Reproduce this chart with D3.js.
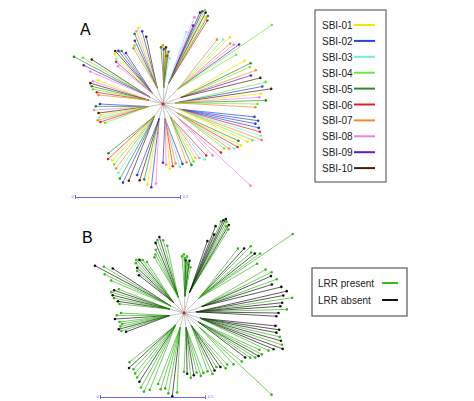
<!DOCTYPE html>
<html>
<head>
<meta charset="utf-8">
<script src="https://cdn.jsdelivr.net/npm/d3@7"></script>
<style>
body { margin: 0; background: #fff; }
text { font-family: Helvetica, "Liberation Sans", Arial, sans-serif; }
</style>
</head>
<body>
<div id="chart"></div>
<script>
// legend categories and colours
var groupNames = ["SBI-01", "SBI-02", "SBI-03", "SBI-04", "SBI-05", "SBI-06", "SBI-07", "SBI-08", "SBI-09", "SBI-10"];
var groupColors = ["#f2e600", "#2a3fd8", "#6ff0d8", "#6ee83a", "#2e8a23", "#e02020", "#f08a2a", "#ee82e0", "#5a1fc8", "#4a1c0c"];
var lrrNames = ["LRR present", "LRR absent"];
var lrrColors = ["#39b71e", "#111111"];

// clade internal nodes: [angle in degrees clockwise from up, distance]
var cladeNodes = [[15,0.1],[3,0.08],[-20,0.08],[-45,0.07],[-62,0.07],[-75,0.07],[-100,0.07],[45,0.1],[70,0.09],
  [85,0.06],[108,0.08],[122,0.08],[133,0.1],[150,0.07],[172,0.07],[195,0.07],[215,0.07]];
// leaf angles per clade
var leafAngles = [
  [20,22,23,24,25,26,27,28,21,18],
  [-2,0,1,2,3,4,5,6,8],
  [-14,-16,-18,-20,-22,-24,-26,-28],
  [-36,-38,-40,-42,-44,-46,-48,-50],
  [-58,-60,-62,-64,-66],
  [-70,-72,-74,-76,-78,-80,-82],
  [-90,-92,-95,-98,-100,-102,-104,-106,-108],
  [40,43,45,48,50,52,54,56],
  [62,65,67,70,72,75],
  [78,80,82,84,86,88,90,92],
  [98,100,102,104,106,108,110,112,114],
  [116,118,120,122,124,126],
  [130,133,136],
  [140,143,146,149,152,155,158],
  [162,165,168,171,174,177,180],
  [185,188,191,194,197,200],
  [204,207,210,213,216,219,222,225,228]
];
// leaf distances from root
var leafDist = [
  [0.44,0.47,0.48,0.49,0.48,0.46,0.47,0.45,0.40,0.36],
  [0.27,0.28,0.26,0.25,0.27,0.24,0.23,0.25,0.22],
  [0.33,0.36,0.38,0.37,0.36,0.33,0.31,0.30],
  [0.30,0.32,0.33,0.34,0.33,0.31,0.30,0.28],
  [0.40,0.44,0.48,0.42,0.38],
  [0.33,0.35,0.36,0.35,0.34,0.32,0.31],
  [0.30,0.32,0.33,0.31,0.30,0.31,0.32,0.31,0.29],
  [0.40,0.42,0.45,0.43,0.44,0.46,0.64,0.42],
  [0.44,0.46,0.45,0.47,0.44,0.48],
  [0.50,0.48,0.52,0.47,0.46,0.49,0.45,0.44],
  [0.44,0.46,0.45,0.47,0.48,0.49,0.50,0.46,0.44],
  [0.40,0.42,0.41,0.40,0.38,0.36],
  [0.36,0.57,0.34],
  [0.32,0.33,0.31,0.30,0.31,0.32,0.30],
  [0.30,0.31,0.29,0.30,0.31,0.29,0.28],
  [0.38,0.40,0.39,0.37,0.38,0.36],
  [0.40,0.42,0.41,0.39,0.38,0.37,0.36,0.37,0.35]
];
// SBI group of each leaf (digit = index into groupNames)
var leafGroup = ["7913904582","461093542","91074836","84190257","93487","0794356","147902653",
  "62067833","043689","31907436","111152630","405263","577","5270346","1265078","710491","914263054"];
// LRR present (1) / absent (0)
var leafLrr = ["0100110100","111011101","11010111","11011010","01011","1010101","110111010",
  "10110111","110100","00100100","000101001","110110","111","1101011","1110101","101111","111011101"];
var scaleTicks = ["0", "0.5"];

var W = 474, H = 401;
var svg = d3.select("#chart").append("svg").attr("width", W).attr("height", H);
var r = d3.scaleLinear().domain([0, 0.5]).range([0, 105]);

function pos(cx, cy, ang, d) {
  var a = ang * Math.PI / 180;
  return [cx + r(d) * Math.sin(a), cy - r(d) * Math.cos(a)];
}

function drawTree(cx, cy, colorOf) {
  var g = svg.append("g");
  cladeNodes.forEach(function(n, i) {
    var np = pos(cx, cy, n[0], n[1]);
    g.append("line").attr("x1", cx).attr("y1", cy).attr("x2", np[0]).attr("y2", np[1])
      .attr("stroke", "#888").attr("stroke-width", 0.5);
    leafAngles[i].forEach(function(a, j) {
      var lp = pos(cx, cy, a, leafDist[i][j]);
      var c = colorOf(i, j);
      g.append("line").attr("x1", np[0]).attr("y1", np[1]).attr("x2", lp[0]).attr("y2", lp[1])
        .attr("stroke", c).attr("stroke-width", 0.8).attr("opacity", 0.85);
      g.append("circle").attr("cx", lp[0]).attr("cy", lp[1]).attr("r", 1.3).attr("fill", c);
    });
  });
  g.append("circle").attr("cx", cx).attr("cy", cy).attr("r", 1.5).attr("fill", "#e02020");
}

function scaleBar(x0, y0) {
  var x = d3.scaleLinear().domain([0, 0.5]).range([x0, x0 + 105]);
  var ax = svg.append("g").attr("transform", "translate(0," + y0 + ")")
    .call(d3.axisBottom(x).tickValues([0, 0.5]).tickSizeInner(3).tickSizeOuter(0)
      .tickFormat(function(d, i) { return scaleTicks[i]; }));
  ax.selectAll("line").attr("stroke", "#6a6ae0").attr("y1", -2).attr("y2", 2);
  ax.selectAll("path").attr("stroke", "#6a6ae0");
  ax.selectAll("text").attr("fill", "#6a6ae0").attr("font-size", 4).attr("y", -2)
    .attr("dx", function(d, i) { return i ? 5 : -3; });
}

// panel A
svg.append("text").attr("x", 80).attr("y", 35).attr("font-size", 16).text("A");
drawTree(163, 104, function(i, j) { return groupColors[+leafGroup[i][j]]; });
scaleBar(75, 197);

var legA = svg.append("g");
legA.append("rect").attr("x", 315).attr("y", 10).attr("width", 71).attr("height", 172)
  .attr("fill", "#fff").attr("stroke", "#666").attr("stroke-width", 1.2);
groupNames.forEach(function(n, i) {
  var y = 25 + i * 15.9;
  legA.append("text").attr("x", 322).attr("y", y + 4).attr("font-size", 10).attr("fill", "#222").text(n);
  legA.append("line").attr("x1", 354).attr("x2", 375).attr("y1", y).attr("y2", y)
    .attr("stroke", groupColors[i]).attr("stroke-width", 2);
});

// panel B
svg.append("text").attr("x", 82).attr("y", 243).attr("font-size", 16).text("B");
drawTree(184, 313, function(i, j) { return leafLrr[i][j] === "1" ? lrrColors[0] : lrrColors[1]; });
scaleBar(100, 397);

var legB = svg.append("g");
legB.append("rect").attr("x", 312).attr("y", 268).attr("width", 95).attr("height", 48)
  .attr("fill", "#fff").attr("stroke", "#555").attr("stroke-width", 1.2);
lrrNames.forEach(function(n, i) {
  var y = 283 + i * 17;
  legB.append("text").attr("x", 318).attr("y", y + 4).attr("font-size", 10).attr("fill", "#222").text(n);
  legB.append("line").attr("x1", 382).attr("x2", 398).attr("y1", y).attr("y2", y)
    .attr("stroke", lrrColors[i]).attr("stroke-width", 2);
});
</script>
</body>
</html>
